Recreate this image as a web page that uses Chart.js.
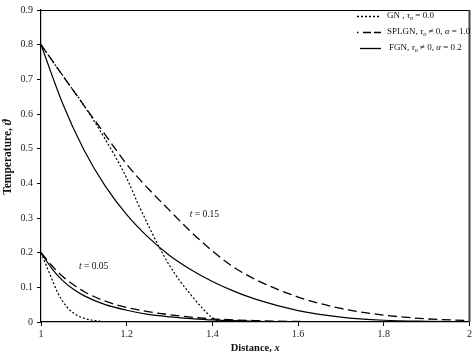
<!DOCTYPE html>
<html><head><meta charset="utf-8">
<script src="https://cdn.jsdelivr.net/npm/chart.js@4/dist/chart.umd.min.js"></script>
<style>html,body{margin:0;padding:0;background:#fff}</style>
</head><body>
<canvas id="c" width="474" height="355"></canvas>
<script>
// ---- data ----
const xTickLabels = ['1', '1.2', '1.4', '1.6', '1.8', '2'];
const yTickLabels = ['0', '0.1', '0.2', '0.3', '0.4', '0.5', '0.6', '0.7', '0.8', '0.9'];
const seriesNames = ['GN', 'SPLGN', 'FGN'];

// t = 0.15
const xGN15 = [1.0, 1.05, 1.1, 1.15, 1.2, 1.225, 1.25, 1.275, 1.3, 1.325, 1.35, 1.375, 1.4, 1.415, 1.43, 1.6, 1.8, 2.0];
const yGN15 = [0.80, 0.712, 0.625, 0.527, 0.415, 0.345, 0.28, 0.218, 0.163, 0.117, 0.078, 0.042, 0.012, 0.002, 0, 0, 0, 0];
const xSP15 = [1.0, 1.05, 1.1, 1.15, 1.2, 1.25, 1.3, 1.35, 1.4, 1.45, 1.5, 1.6, 1.7, 1.8, 1.9, 2.0];
const ySP15 = [0.80, 0.712, 0.625, 0.540, 0.455, 0.385, 0.322, 0.260, 0.205, 0.158, 0.123, 0.072, 0.039, 0.020, 0.009, 0.004];
const xFG15 = [1.0, 1.05, 1.1, 1.15, 1.2, 1.25, 1.3, 1.35, 1.4, 1.45, 1.5, 1.6, 1.7, 1.8, 1.9, 2.0];
const yFG15 = [0.80, 0.632, 0.497, 0.392, 0.310, 0.245, 0.192, 0.151, 0.117, 0.089, 0.066, 0.033, 0.014, 0.005, 0.002, 0.001];

// t = 0.05
const xGN05 = [1.0, 1.02, 1.04, 1.06, 1.08, 1.1, 1.12, 1.14, 1.16, 1.2, 1.4, 1.6, 1.8, 2.0];
const yGN05 = [0.20, 0.14, 0.082, 0.044, 0.022, 0.011, 0.005, 0.002, 0, 0, 0, 0, 0, 0];
const xSP05 = [1.0, 1.025, 1.05, 1.075, 1.1, 1.15, 1.2, 1.25, 1.3, 1.35, 1.4, 1.5, 1.6, 1.8, 2.0];
const ySP05 = [0.20, 0.163, 0.132, 0.108, 0.088, 0.060, 0.042, 0.030, 0.021, 0.014, 0.009, 0.004, 0.0015, 0, 0];
const xFG05 = [1.0, 1.025, 1.05, 1.075, 1.1, 1.15, 1.2, 1.25, 1.3, 1.35, 1.4, 1.5, 1.6, 1.8, 2.0];
const yFG05 = [0.20, 0.155, 0.120, 0.095, 0.076, 0.050, 0.034, 0.022, 0.015, 0.010, 0.006, 0.002, 0.001, 0, 0];

const annotations = [
  { text: '0.15', x: 1.347, y: 0.31 },
  { text: '0.05', x: 1.0886, y: 0.1615 }
];

// ---- helpers ----
const SERIF = '"Liberation Serif", "Times New Roman", serif';
const pts = (xs, ys) => xs.map((x, i) => ({ x, y: ys[i] }));
const styles = {
  GN: { borderDash: [2, 2], borderWidth: 1.2 },
  SPLGN: { borderDash: [9, 4.5], borderWidth: 1.3 },
  FGN: { borderDash: [], borderWidth: 1.2 }
};
function ds(name, xs, ys) {
  return Object.assign({
    label: name, data: pts(xs, ys), borderColor: '#000', backgroundColor: '#000',
    pointRadius: 0, fill: false, cubicInterpolationMode: 'monotone'
  }, styles[name]);
}

function richWidth(ctx, parts, size) {
  let w = 0;
  for (const p of parts) {
    const s = p[2] ? size * 0.7 : size;
    ctx.font = (p[1] || '') + ' ' + s + 'px ' + SERIF;
    w += ctx.measureText(p[0]).width;
  }
  return w;
}
function drawRich(ctx, x, y, parts, size, align) {
  let w = richWidth(ctx, parts, size);
  let cx = align === 'center' ? x - w / 2 : x;
  ctx.textBaseline = 'middle';
  ctx.textAlign = 'left';
  for (const p of parts) {
    const s = p[2] ? size * 0.7 : size;
    ctx.font = (p[1] || '') + ' ' + s + 'px ' + SERIF;
    ctx.fillText(p[0], cx, p[2] ? y + size * 0.25 : y);
    cx += ctx.measureText(p[0]).width;
  }
}

const legendRows = [
  { name: seriesNames[0], parts: [[seriesNames[0] + ' , '], ['τ', 'italic'], ['o', 'italic', 1], [' = 0.0']] },
  { name: seriesNames[1], parts: [[seriesNames[1] + ', '], ['τ', 'italic'], ['o', 'italic', 1], [' ≠ 0, '], ['α', 'italic'], [' = 1.0']] },
  { name: seriesNames[2], parts: [[seriesNames[2] + ', '], ['τ', 'italic'], ['o', 'italic', 1], [' ≠ 0, '], ['α', 'italic'], [' = 0.2']] }
];

const decor = {
  id: 'decor',
  afterDraw(chart) {
    const ctx = chart.ctx, a = chart.chartArea;
    const xs = chart.scales.x, ys = chart.scales.y;
    ctx.save();
    // frame top / right
    ctx.strokeStyle = '#000';
    ctx.lineWidth = 1;
    ctx.setLineDash([]);
    ctx.beginPath();
    ctx.moveTo(a.left, a.top + 0.5);
    ctx.lineTo(a.right, a.top + 0.5);
    ctx.stroke();
    ctx.strokeStyle = '#444';
    ctx.lineWidth = 2;
    ctx.beginPath();
    ctx.moveTo(a.right, a.top);
    ctx.lineTo(a.right, a.bottom);
    ctx.stroke();

    ctx.fillStyle = '#111';
    // axis titles
    drawRich(ctx, (a.left + a.right) / 2, 348, [['Distance, ', 'bold'], ['x', 'bold italic']], 10.5, 'center');
    ctx.save();
    ctx.translate(8, 157);
    ctx.rotate(-Math.PI / 2);
    drawRich(ctx, 0, 0, [['Temperature, ', 'bold'], ['ϑ', 'bold italic']], 11.5, 'center');
    ctx.restore();

    // annotations
    for (const an of annotations) {
      drawRich(ctx, xs.getPixelForValue(an.x), ys.getPixelForValue(an.y), [['t', 'italic'], [' = ' + an.text]], 9.5, 'left');
    }

    // legend
    const rowY = [16, 32, 48];
    legendRows.forEach((r, i) => {
      const y = rowY[i] + 0.5;
      ctx.strokeStyle = '#000';
      ctx.lineWidth = 1.3;
      ctx.beginPath();
      if (r.name === 'GN') {
        ctx.setLineDash([2, 2]);
        ctx.moveTo(357, y); ctx.lineTo(381, y);
      } else if (r.name === 'SPLGN') {
        ctx.setLineDash([]);
        ctx.moveTo(357, y); ctx.lineTo(358.5, y);
        ctx.moveTo(363, y); ctx.lineTo(371, y);
        ctx.moveTo(374, y); ctx.lineTo(381, y);
      } else {
        ctx.setLineDash([]);
        ctx.moveTo(360, y); ctx.lineTo(381, y);
      }
      ctx.stroke();
      ctx.setLineDash([]);
      drawRich(ctx, 387 + (i === 2 ? 2 : 0), rowY[i], r.parts, 9, 'left');
    });
    ctx.restore();
  }
};

new Chart(document.getElementById('c'), {
  type: 'line',
  data: {
    datasets: [
      ds('GN', xGN15, yGN15), ds('SPLGN', xSP15, ySP15), ds('FGN', xFG15, yFG15),
      ds('GN', xGN05, yGN05), ds('SPLGN', xSP05, ySP05), ds('FGN', xFG05, yFG05)
    ]
  },
  options: {
    responsive: false,
    animation: false,
    devicePixelRatio: 1,
    layout: { padding: { top: 5, right: 4, left: 0, bottom: 0 } },
    plugins: { legend: { display: false }, tooltip: { enabled: false }, title: { display: false } },
    scales: {
      x: {
        type: 'linear', min: 1, max: 2,
        afterFit(s) { s.height = 33; },
        ticks: {
          stepSize: 0.2, maxRotation: 0, autoSkip: false, padding: 2, color: '#222',
          font: { family: SERIF, size: 10 },
          callback: (v, i) => xTickLabels[i]
        },
        grid: { drawOnChartArea: false, drawTicks: true, tickLength: 4, color: '#000' },
        border: { color: '#000', width: 1.2 }
      },
      y: {
        type: 'linear', min: 0, max: 0.9,
        afterFit(s) { s.width = 41; },
        ticks: {
          stepSize: 0.1, autoSkip: false, padding: 4, color: '#222',
          font: { family: SERIF, size: 10 },
          callback: (v, i) => yTickLabels[i]
        },
        grid: { drawOnChartArea: false, drawTicks: true, tickLength: 4, color: '#000' },
        border: { color: '#000', width: 1.2 }
      }
    }
  },
  plugins: [decor]
});
</script>
</body></html>
